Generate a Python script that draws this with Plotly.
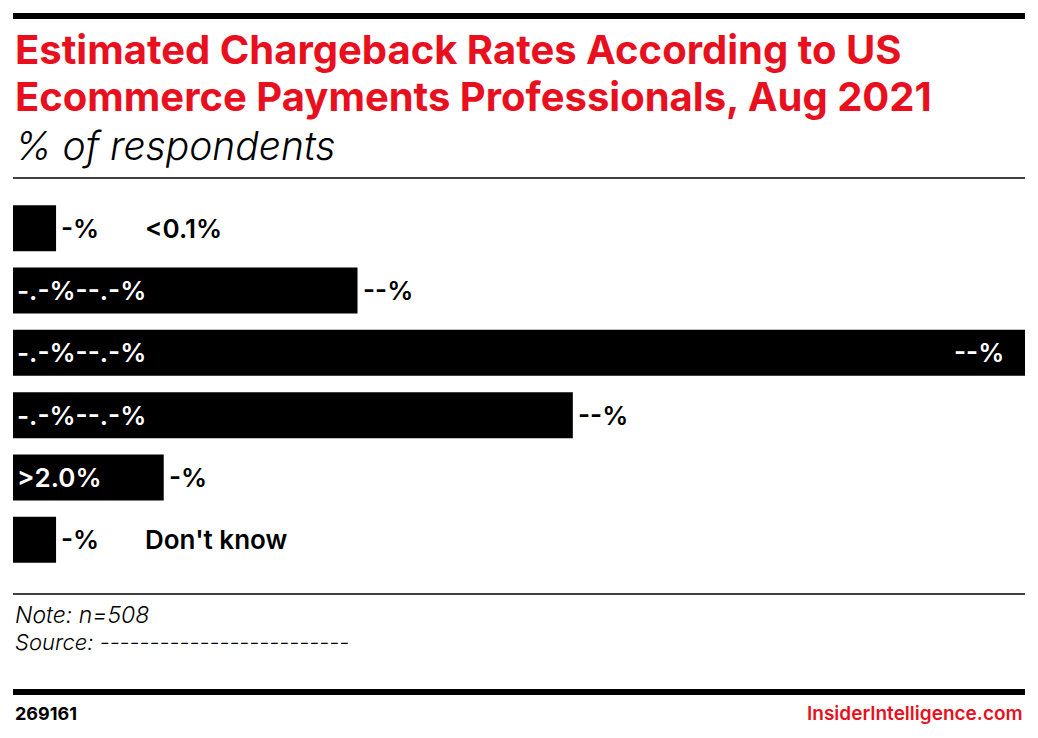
import plotly.graph_objects as go

# ---------------------------------------------------------------------------
# Data (values masked in the source; lengths)
# ---------------------------------------------------------------------------
CATEGORIES = ["<0.1%", "-.-%--.-%", "-.-%--.-% ", "-.-%--.-%  ", ">2.0%", "Don't know"]
CAT_LABELS = ["<0.1%", "-.-%--.-%", "-.-%--.-%", "-.-%--.-%", ">2.0%", "Don't know"]
VALUES = [2, 16, 47, 26, 7, 2]
VALUE_LABELS = ["-%", "--%", "--%", "--%", "-%", "-%"]

RED = "#E8101E"
BLACK = "#000000"
FONT = "Inter, Roboto, Arial, sans-serif"

# page body adds an 8px margin, so the figure is drawn 8px in from the corner
OFF = 8
W, H = 1030, 730
M_L, M_R, M_T, M_B = 5, 13, 189, 167


def py(pix):
    """reference pixel y (from top of page) -> paper coordinate"""
    return (H - M_B - (pix - OFF)) / (H - M_T - M_B)


fig = go.Figure()
fig.add_trace(go.Bar(
    x=VALUES, y=CATEGORIES, orientation="h",
    marker=dict(color=BLACK, line=dict(width=0)),
    hoverinfo="skip",
))

ann = []
for cat, lab, v, vl in zip(CATEGORIES, CAT_LABELS, VALUES, VALUE_LABELS):
    small = v < 5
    big = v == max(VALUES)
    # value label
    ann.append(dict(
        x=v, y=cat, xref="x", yref="y", text=vl, showarrow=False,
        xanchor="right" if big else "left", xshift=-19 if big else 3,
        font=dict(family=FONT, size=26, color="white" if big else BLACK, weight=600),
    ))
    # category label
    if small:
        ann.append(dict(
            x=v, y=cat, xref="x", yref="y", text=lab, showarrow=False,
            xanchor="left", xshift=87,
            font=dict(family=FONT, size=26, color=BLACK, weight=600),
        ))
    else:
        ann.append(dict(
            x=0, y=cat, xref="x", yref="y", text=lab, showarrow=False,
            xanchor="left", xshift=2,
            font=dict(family=FONT, size=26, color="white", weight=600),
        ))


def txt(text, y, size, color=BLACK, weight=400, x=0, xanchor="left", italic=False):
    return dict(x=x, y=py(y), xref="paper", yref="paper", xanchor=xanchor,
                yanchor="middle", text=text, showarrow=False,
                font=dict(family=FONT, size=size, color=color, weight=weight,
                          style="italic" if italic else "normal"))


ann += [
    txt("Estimated Chargeback Rates According to US", 49, 40, RED, 700),
    txt("Ecommerce Payments Professionals, Aug 2021", 96, 40, RED, 700),
    txt("% of respondents", 146, 39, BLACK, 300, italic=True),
    txt("Note: n=508", 615, 23, BLACK, 300, italic=True),
    txt("Source: -------------------------", 642, 22, BLACK, 300, italic=True),
    txt("269161", 713, 18, BLACK, 700),
    txt("InsiderIntelligence.com", 713, 19, RED, 600, x=1, xanchor="right"),
]


def hline(y, width):
    return dict(type="line", xref="paper", yref="paper", x0=0, x1=1,
                y0=py(y), y1=py(y), line=dict(color=BLACK, width=width))


shapes = [hline(16, 6), hline(178, 1.5), hline(594, 1.5), hline(692, 6)]

fig.update_layout(
    width=W, height=H,
    margin=dict(l=M_L, r=M_R, t=M_T, b=M_B),
    paper_bgcolor="white", plot_bgcolor="white",
    showlegend=False,
    bargap=0.263,
    annotations=ann, shapes=shapes,
    xaxis=dict(range=[0, max(VALUES)], visible=False, fixedrange=True),
    yaxis=dict(autorange="reversed", visible=False, fixedrange=True),
)

fig.write_html("out.html", config=dict(displayModeBar=False))
